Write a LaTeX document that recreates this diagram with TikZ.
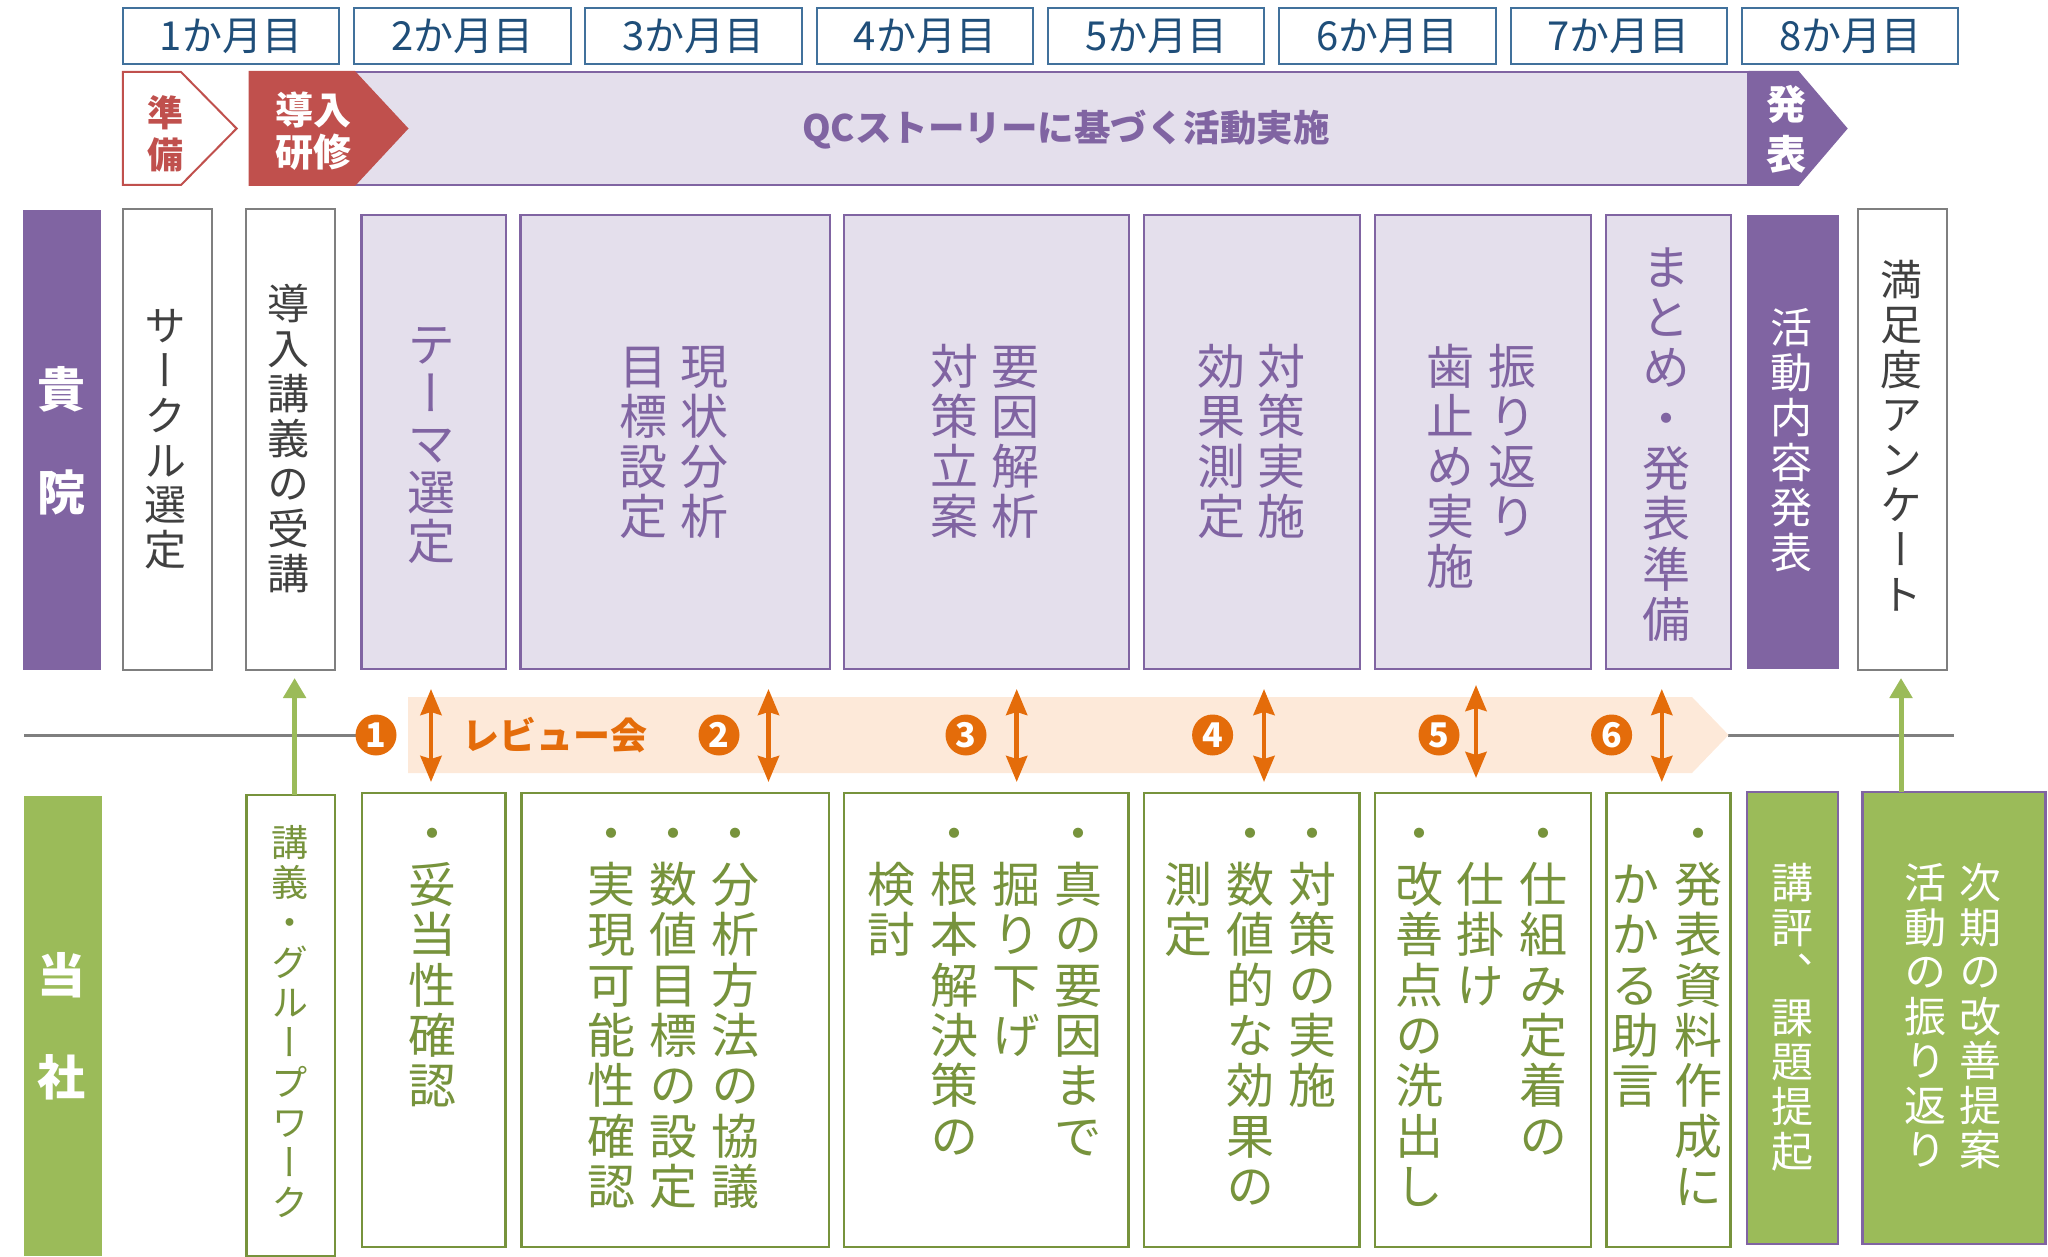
\documentclass[tikz,border=0pt]{standalone}
\usepackage{fontspec}
\setmainfont{Noto Sans CJK JP}
\newfontfamily\vjp[RawFeature=+vert]{Noto Sans CJK JP}
\usetikzlibrary{arrows.meta}
\definecolor{mblue}{HTML}{41719C}
\definecolor{mtext}{HTML}{1F4E79}
\definecolor{cred}{HTML}{C0504D}
\definecolor{cpur}{HTML}{8064A2}
\definecolor{lpur}{HTML}{E4DFEC}
\definecolor{corg}{HTML}{E46C0A}
\definecolor{lorg}{HTML}{FDE9D9}
\definecolor{cgrn}{HTML}{9BBB59}
\definecolor{dgrn}{HTML}{77933C}
\definecolor{cgray}{HTML}{7F7F7F}
\definecolor{tgray}{HTML}{404040}

\ExplSyntaxOn
\NewDocumentCommand\vcol{mmm}{
  \vtop{
    \vjp\fontsize{#1}{#2}\selectfont
    \baselineskip=#2pt\relax
    \lineskiplimit=-\maxdimen
    \lineskip=0pt\relax
    \tl_map_inline:nn {#3} { \hbox_to_wd:nn {1em} { \hss \rule[-0.12em]{0pt}{1em} ##1 \hss } }
  }
}
\ExplSyntaxOff

\newcommand\mybox[6]{\node[#2, minimum width={#5-#3}, minimum height={#6-#4}] (#1) at ({(#3+#5)/2},{(#4+#6)/2}) {};}
\newcommand\vc[7]{\node[inner sep=0pt, outer sep=0pt, anchor=north, text=#2] (#1) at (#3,#4) {\vcol{#5}{#6}{#7}};}

\tikzset{
  every node/.style={inner sep=0pt, outer sep=0pt},
  monthbox/.style={draw=mblue, line width=2pt, fill=white, text=mtext, font=\fontsize{40}{42}\selectfont},
  whitebox/.style={draw=cgray, line width=2.5pt, fill=white},
  purbox/.style={draw=cpur, line width=2.5pt, fill=lpur},
  purfill/.style={fill=cpur},
  grnfill/.style={fill=cgrn},
  grnbox/.style={draw=dgrn, line width=2.5pt, fill=white},
  grnpur/.style={draw=cpur, line width=2.5pt, fill=cgrn},
  bigbold/.style={font=\fontsize{48}{50}\selectfont\bfseries, text=white},
  numdot/.style={circle, fill=corg, minimum size=41pt, text=white, font=\fontsize{34}{34}\selectfont\bfseries},
  oarr/.style={draw=corg, line width=4.5pt, {Stealth[length=26pt,width=21pt,inset=3pt]}-{Stealth[length=26pt,width=21pt,inset=3pt]}},
  garr/.style={draw=cgrn, line width=5pt, -{Triangle[length=20pt,width=22pt]}},
  hline/.style={draw=cgray, line width=3pt}
}

\begin{document}
\begin{tikzpicture}[x=1pt,y=-1pt]
\useasboundingbox (0,0) rectangle (2048,1257);

% month header
\foreach \i/\xc in {1/231,2/462.3,3/693.6,4/924.9,5/1156.2,6/1387.5,7/1618.8,8/1850.1}{
  \node[monthbox, minimum width=216.5pt, minimum height=56pt] (m\i) at (\xc,36) {\i か月目};
}

% phase arrows
\draw[draw=cpur, line width=2.5pt, fill=lpur] (330,72) rectangle (1748.5,185);
\draw[draw=cred, line width=2pt, fill=white] (122.8,72) -- (181,72) -- (236.6,128.5) -- (181,185) -- (122.8,185) -- cycle;
\fill[cred] (248.7,71) -- (355,71) -- (408.5,128.5) -- (355,186) -- (248.7,186) -- cycle;
\fill[cpur] (1748.5,71) -- (1798.6,71) -- (1847.7,128.5) -- (1798.6,186) -- (1748.5,186) -- cycle;
\node[align=center, text=cred, font=\fontsize{36}{42}\selectfont\bfseries] (junbi) at (165,134) {準\\備};
\node[align=center, text=white, font=\fontsize{38}{42.5}\selectfont\bfseries] (kenshu) at (313.6,131) {導入\\研修};
\node[align=center, text=white, font=\fontsize{40}{50}\selectfont\bfseries] (happyoA) at (1786.6,129) {発\\表};
\node[text=cpur, font=\fontsize{36.5}{40}\selectfont\bfseries] (qc) at (1066,130) {QCストーリーに基づく活動実施};

% top row boxes
\mybox{kiin}{purfill}{23}{210}{101}{670}
\mybox{circle}{whitebox}{123}{209}{212}{670}
\mybox{dounyu}{whitebox}{246}{209}{335}{670}
\mybox{theme}{purbox}{361.6}{215}{505.8}{669}
\mybox{genjo}{purbox}{520.4}{215}{830}{669}
\mybox{youin}{purbox}{844}{215}{1129}{669}
\mybox{taisaku}{purbox}{1144}{215}{1360}{669}
\mybox{furikaeri}{purbox}{1375}{215}{1591}{669}
\mybox{matome}{purbox}{1606}{215}{1731}{669}
\mybox{happyo}{purfill}{1747}{215}{1839}{669}
\mybox{manzoku}{whitebox}{1858}{209}{1947}{670}

\node[bigbold] (ki) at (61,389.5) {貴};
\node[bigbold] (in) at (61,492.5) {院};

\vc{t-circle}{tgray}{165}{305}{42}{44.7}{サークル選定}
\vc{t-dounyu}{tgray}{288}{282.5}{42}{45}{導入講義の受講}
\vc{t-theme}{cpur}{431}{320}{48}{49.4}{テーマ選定}
\vc{t-gen1}{cpur}{704}{342.5}{48}{50}{現状分析}
\vc{t-gen2}{cpur}{643}{342.5}{48}{50}{目標設定}
\vc{t-you1}{cpur}{1015}{342.5}{48}{50}{要因解析}
\vc{t-you2}{cpur}{954}{342.5}{48}{50}{対策立案}
\vc{t-tai1}{cpur}{1281}{342.5}{48}{50}{対策実施}
\vc{t-tai2}{cpur}{1221}{342.5}{48}{50}{効果測定}
\vc{t-furi1}{cpur}{1512}{342.5}{48}{50}{振り返り}
\vc{t-furi2}{cpur}{1450}{342.5}{48}{50}{歯止め実施}
\vc{t-matome}{cpur}{1666}{243}{48}{50.3}{まとめ・発表準備}
\vc{t-hap}{white}{1791}{307}{42}{45}{活動内容発表}
\vc{t-man}{tgray}{1901}{259}{42}{45}{満足度アンケート}

% middle row: review band
\coordinate (lineL) at (24,735);
\coordinate (lineR) at (1954,735);
\draw[hline] (lineL) -- (360,735);
\draw[hline] (1728,735) -- (lineR);
\fill[lorg] (408,697) -- (1692,697) -- (1728.6,735) -- (1692,773) -- (408,773) -- cycle;

\foreach \k/\xc in {1/376,2/719,3/966,4/1212.6,5/1439,6/1611.6}{
  \node[numdot] (n\k) at (\xc,735) {\k};
}
\node[anchor=west, text=corg, font=\fontsize{37}{40}\selectfont\bfseries] (review) at (462,735) {レビュー会};

\foreach \k/\xc/\ya/\yb in {1/431/689/782,2/768.5/689/782,3/1016.7/689/782,4/1264/689/782,5/1476/685/778,6/1661.8/689/782}{
  \coordinate (oa\k) at (\xc,\ya);
  \coordinate (ob\k) at (\xc,\yb);
  \draw[oarr] (oa\k) -- (ob\k);
}

% bottom row boxes
\mybox{tosha}{grnfill}{24}{796}{102}{1256}
\mybox{kougi}{grnbox}{246.6}{795}{335}{1256}
\mybox{datou}{grnbox}{362}{793}{505.7}{1247}
\mybox{bunseki}{grnbox}{521.4}{793}{829}{1247}
\mybox{shin}{grnbox}{844}{793}{1128.5}{1247}
\mybox{jisshi}{grnbox}{1143.8}{793}{1359.6}{1247}
\mybox{shikumi}{grnbox}{1375}{793}{1591}{1247}
\mybox{shiryo}{grnbox}{1606.7}{793}{1730.7}{1247}
\mybox{kohyo}{grnpur}{1747}{792}{1838}{1244}
\mybox{jiki}{grnpur}{1862.7}{792}{2045.7}{1244}

\node[bigbold] (to) at (61,975) {当};
\node[bigbold] (sha) at (61,1077.5) {社};

\vc{b-kougi}{dgrn}{290}{824}{37}{40}{講義・グループワーク}
\vc{b-datou}{dgrn}{432}{809.6}{48}{50.4}{・妥当性確認}
\vc{b-bun1}{dgrn}{735.5}{809.6}{48}{50.4}{・分析方法の協議}
\vc{b-bun2}{dgrn}{673.7}{809.6}{48}{50.4}{・数値目標の設定}
\vc{b-bun3}{dgrn}{611}{809.6}{48}{50.4}{・実現可能性確認}
\vc{b-shin1}{dgrn}{1078.5}{809.6}{48}{50.4}{・真の要因まで}
\vc{b-shin2}{dgrn}{1016}{860}{48}{50.4}{掘り下げ}
\vc{b-shin3}{dgrn}{954}{809.6}{48}{50.4}{・根本解決策の}
\vc{b-shin4}{dgrn}{891}{860}{48}{50.4}{検討}
\vc{b-jis1}{dgrn}{1312}{809.6}{48}{50.4}{・対策の実施}
\vc{b-jis2}{dgrn}{1250}{809.6}{48}{50.4}{・数値的な効果の}
\vc{b-jis3}{dgrn}{1188}{860}{48}{50.4}{測定}
\vc{b-shi1}{dgrn}{1543}{809.6}{48}{50.4}{・仕組み定着の}
\vc{b-shi2}{dgrn}{1480.5}{860}{48}{50.4}{仕掛け}
\vc{b-shi3}{dgrn}{1419}{809.6}{48}{50.4}{・改善点の洗出し}
\vc{b-shr1}{dgrn}{1698}{809.6}{48}{50.4}{・発表資料作成に}
\vc{b-shr2}{dgrn}{1635}{860}{48}{50.4}{かかる助言}
\vc{b-kohyo}{white}{1792}{862}{42}{44.7}{講評、課題提起}
\vc{b-jiki1}{white}{1980}{862}{42}{44.5}{次期の改善提案}
\vc{b-jiki2}{white}{1925}{862}{42}{44.5}{活動の振り返り}

% green arrows
\coordinate (g1) at (294.6,678);
\coordinate (g2) at (1901,678);
\draw[garr] (kougi.north -| g1) -- (g1);
\draw[garr] (jiki.north -| g2) -- (g2);
\end{tikzpicture}
\end{document}
